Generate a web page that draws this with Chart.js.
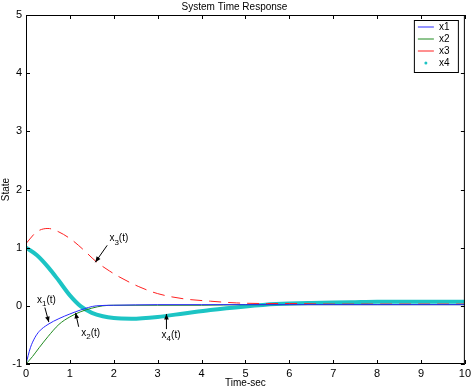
<!DOCTYPE html>
<html>
<head>
<meta charset="utf-8">
<script src="https://cdn.jsdelivr.net/npm/chart.js@4/dist/chart.umd.min.js"></script>
<style>
  html, body { margin: 0; padding: 0; background: #fff; }
  #wrap { width: 474px; height: 389px; }
</style>
</head>
<body>
<div id="wrap"><canvas id="stateChart"></canvas></div>
<script>
// time samples and state values
const t1 = [0, 0.1, 0.2, 0.3, 0.5, 0.75, 1, 1.25, 1.6, 2, 3, 4, 5, 6, 7, 8, 9, 10];
const x1 = [-1, -0.72, -0.55, -0.44, -0.32, -0.22, -0.14, -0.07, 0, 0.01, 0.02, 0.02, 0.02, 0.02, 0.02, 0.02, 0.02, 0.02];

const t2 = [0, 0.15, 0.3, 0.5, 0.75, 1, 1.25, 1.5, 1.75, 2, 3, 4, 5, 6, 7, 8, 9, 10];
const x2 = [-1, -0.87, -0.72, -0.53, -0.32, -0.19, -0.1, -0.04, 0, 0.01, 0.01, 0.01, 0.02, 0.02, 0.02, 0.02, 0.02, 0.02];

const t3 = [0, 0.24, 0.5, 0.75, 1.05, 1.3, 1.6, 1.9, 2.12, 2.57, 3, 3.6, 4.2, 4.8, 5.5, 6, 7, 8, 9, 10];
const x3 = [1.07, 1.27, 1.33, 1.27, 1.13, 0.97, 0.76, 0.6, 0.5, 0.33, 0.21, 0.12, 0.08, 0.05, 0.04, 0.04, 0.03, 0.03, 0.03, 0.03];

const t4 = [0, 0.25, 0.5, 0.75, 1, 1.25, 1.5, 1.75, 2, 2.4, 3, 3.6, 4.2, 5, 5.7, 6.5, 7.4, 8, 9, 10];
const x4 = [1, 0.87, 0.67, 0.43, 0.18, -0.01, -0.12, -0.18, -0.21, -0.22, -0.19, -0.13, -0.07, -0.01, 0.03, 0.05, 0.06, 0.07, 0.07, 0.07];

const seriesNames = ['x1', 'x2', 'x3', 'x4'];
const seriesColors = ['#2a2aff', '#1f8a1f', '#ff2020', '#1cc4c4'];

// curve labels: [subscript, label t, label y, arrow from t, y, arrow to t, y]
const curveLabels = [
  ['1', 0.25, 0.1, 0.43, -0.03, 0.52, -0.28],
  ['2', 1.26, -0.47, 1.2, -0.36, 1.13, -0.12],
  ['3', 1.9, 1.16, 1.85, 1.04, 1.58, 0.75],
  ['4', 3.09, -0.5, 3.2, -0.4, 3.2, -0.14]
];

const xTicks = [0, 1, 2, 3, 4, 5, 6, 7, 8, 9, 10];
const yTicks = [-1, 0, 1, 2, 3, 4, 5];

function pts(ts, vs) {
  return ts.map((t, i) => ({ x: t, y: vs[i] }));
}

const FONT = '"Liberation Sans", Arial, sans-serif';

// box, inward ticks, legend and curve labels in the matlab style
const matlabDecor = {
  id: 'matlabDecor',
  afterDraw(chart) {
    const ctx = chart.ctx;
    const a = chart.chartArea;
    const xs = chart.scales.x, ys = chart.scales.y;
    ctx.save();
    ctx.strokeStyle = '#000';
    ctx.lineWidth = 1;
    ctx.strokeRect(a.left + 0.5, a.top + 0.5, a.right - a.left - 1, a.bottom - a.top - 1);
    ctx.beginPath();
    xTicks.forEach(v => {
      const px = Math.round(xs.getPixelForValue(v)) + 0.5;
      ctx.moveTo(px, a.bottom); ctx.lineTo(px, a.bottom - 4);
      ctx.moveTo(px, a.top); ctx.lineTo(px, a.top + 4);
    });
    yTicks.forEach(v => {
      const py = Math.round(ys.getPixelForValue(v)) + 0.5;
      ctx.moveTo(a.left, py); ctx.lineTo(a.left + 4, py);
      ctx.moveTo(a.right, py); ctx.lineTo(a.right - 4, py);
    });
    ctx.stroke();

    // legend
    const lx = a.right - 51, ly = a.top + 5, lw = 44, lh = 52;
    ctx.fillStyle = '#fff';
    ctx.fillRect(lx, ly, lw, lh);
    ctx.strokeStyle = '#000';
    ctx.strokeRect(lx + 0.5, ly + 0.5, lw, lh);
    ctx.font = '10px ' + FONT;
    ctx.textBaseline = 'middle';
    seriesNames.forEach((n, i) => {
      const ry = ly + 7 + i * 12;
      ctx.strokeStyle = seriesColors[i];
      ctx.fillStyle = seriesColors[i];
      if (i < 3) {
        ctx.lineWidth = 1;
        ctx.beginPath();
        ctx.moveTo(lx + 4, ry); ctx.lineTo(lx + 20, ry);
        ctx.stroke();
      } else {
        ctx.beginPath();
        ctx.arc(lx + 12, ry, 1.5, 0, Math.PI * 2);
        ctx.fill();
      }
      ctx.fillStyle = '#000';
      ctx.textAlign = 'left';
      ctx.fillText(n, lx + 25, ry);
    });

    // curve labels with arrows
    ctx.strokeStyle = '#000';
    ctx.fillStyle = '#000';
    ctx.lineWidth = 1;
    curveLabels.forEach(c => {
      const px = xs.getPixelForValue(c[1]), py = ys.getPixelForValue(c[2]);
      ctx.font = '10px ' + FONT;
      ctx.textAlign = 'left';
      ctx.textBaseline = 'middle';
      ctx.fillText('x', px, py);
      const w1 = ctx.measureText('x').width;
      ctx.font = '8px ' + FONT;
      ctx.fillText(c[0], px + w1, py + 4);
      const w2 = ctx.measureText(c[0]).width;
      ctx.font = '10px ' + FONT;
      ctx.fillText('(t)', px + w1 + w2, py);

      const ax = xs.getPixelForValue(c[3]), ay = ys.getPixelForValue(c[4]);
      const bx = xs.getPixelForValue(c[5]), by = ys.getPixelForValue(c[6]);
      ctx.beginPath();
      ctx.moveTo(ax, ay); ctx.lineTo(bx, by);
      ctx.stroke();
      const ang = Math.atan2(by - ay, bx - ax);
      ctx.beginPath();
      ctx.moveTo(bx, by);
      ctx.lineTo(bx - 6 * Math.cos(ang - 0.4), by - 6 * Math.sin(ang - 0.4));
      ctx.lineTo(bx - 6 * Math.cos(ang + 0.4), by - 6 * Math.sin(ang + 0.4));
      ctx.closePath();
      ctx.fill();
    });
    ctx.restore();
  }
};

const ctx = document.getElementById('stateChart').getContext('2d');
const chart = new Chart(ctx, {
  type: 'line',
  data: {
    datasets: [
      { label: 'x1', data: pts(t1, x1), borderColor: seriesColors[0], borderWidth: 1, pointRadius: 0, cubicInterpolationMode: 'monotone' },
      { label: 'x2', data: pts(t2, x2), borderColor: seriesColors[1], borderWidth: 1, pointRadius: 0, cubicInterpolationMode: 'monotone' },
      { label: 'x3', data: pts(t3, x3), borderColor: seriesColors[2], borderWidth: 1, borderDash: [12, 7], pointRadius: 0, cubicInterpolationMode: 'monotone' },
      { label: 'x4', data: pts(t4, x4), borderColor: seriesColors[3], borderWidth: 4, pointRadius: 0, cubicInterpolationMode: 'monotone' }
    ]
  },
  options: {
    responsive: true,
    maintainAspectRatio: false,
    animation: false,
    layout: { padding: { left: 0, right: 5, top: 0, bottom: 0 } },
    plugins: {
      legend: { display: false },
      tooltip: { enabled: false },
      title: {
        display: true,
        text: 'System Time Response',
        color: '#000',
        font: { family: FONT, size: 10, weight: 'normal' },
        padding: { top: 1, bottom: 2 }
      }
    },
    scales: {
      x: {
        type: 'linear',
        min: 0, max: 10,
        grid: { display: false, drawTicks: false },
        border: { display: false },
        ticks: { stepSize: 1, color: '#000', padding: 3, maxRotation: 0, font: { family: FONT, size: 11 } },
        title: { display: true, text: 'Time-sec', color: '#000', padding: 0, font: { family: FONT, size: 10 } },
        afterFit(s) { s.height = 25; }
      },
      y: {
        min: -1, max: 5,
        grid: { display: false, drawTicks: false },
        border: { display: false },
        ticks: { stepSize: 1, color: '#000', padding: 4, font: { family: FONT, size: 11 } },
        title: { display: true, text: 'State', color: '#000', padding: 0, font: { family: FONT, size: 10 } },
        afterFit(s) { s.width = 26; }
      }
    }
  },
  plugins: [matlabDecor]
});
</script>
</body>
</html>
